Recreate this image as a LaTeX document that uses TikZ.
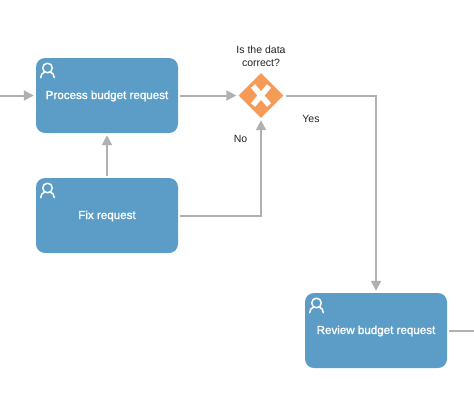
\documentclass[tikz,border=0pt]{standalone}
\usepackage{fontspec}
\setmainfont{Liberation Sans}
\newfontfamily\taskfont[FakeBold=1.5]{Liberation Sans}
\usetikzlibrary{shapes.geometric,arrows.meta}
\definecolor{taskblue}{HTML}{5B9DC6}
\definecolor{gateorange}{HTML}{F59A57}
\definecolor{flowgrey}{HTML}{B0B0B0}
\definecolor{labelink}{HTML}{222222}
\tikzset{
  x=1pt,y=-1pt,
  taskbox/.style={draw=none,fill=taskblue,rounded corners=9pt,minimum width=142pt,minimum height=75pt,inner sep=0pt},
  tasklabel/.style={text=white,font=\fontsize{11.6}{14}\taskfont,inner sep=0pt},
  gateway/.style={diamond,aspect=1,fill=gateorange,minimum size=45pt,inner sep=0pt},
  flow/.style={draw=flowgrey,line width=2pt,-{Triangle[length=10pt,width=10pt]},shorten >=2pt,shorten <=2pt},
  flowplain/.style={draw=flowgrey,line width=2pt,shorten <=2pt},
  annot/.style={text=labelink,font=\fontsize{10.5}{13}\selectfont,inner sep=0pt,align=center},
  personicon/.style={draw=white,line width=1.5pt,line cap=round,line join=round}
}
\newcommand{\personat}[2]{%
  \draw[personicon] (#1,#2-2.5) circle[radius=4.8pt];
  \draw[personicon] (#1-6.8,#2+7.2) .. controls (#1-6.8,#2+4) and (#1-5,#2+2.5) .. (#1-3.2,#2+1.8);
  \draw[personicon] (#1+6.8,#2+7.2) .. controls (#1+6.8,#2+4) and (#1+5,#2+2.5) .. (#1+3.2,#2+1.8);
}
\begin{document}
\begin{tikzpicture}
\useasboundingbox (0,0) rectangle (474,402);
\node[taskbox] (process) at (107,95.5) {};
\node[taskbox] (fix) at (107,215.5) {};
\node[taskbox] (review) at (376,330.5) {};
\node[tasklabel] at (107,96) {Process budget request};
\node[tasklabel] at (107,216) {Fix request};
\node[tasklabel] at (376,331) {Review budget request};
\personat{47.5}{70.5}
\personat{47.5}{190.5}
\personat{316.5}{305.5}
\node[gateway] (gate) at (261,95.5) {};
\draw[white,line width=5.5pt] (253,86) -- (269,105);
\draw[white,line width=5.5pt] (269,86) -- (253,105);
\coordinate (infree) at (0,95.5);
\coordinate (outfree) at (474,330.5);
\coordinate (bendyes) at (376,95.5);
\coordinate (bendno) at (261,215.5);
\draw[flow,shorten <=0pt] (infree) -- (process.west);
\draw[flow] (process.east) -- (gate.west);
\draw[flow] (fix.north) -- (process.south);
\draw[flow] (fix.east) -- (bendno) -- (gate.south);
\draw[flow] (gate.east) -- (bendyes) -- (review.north);
\draw[flowplain] (review.east) -- (outfree);
\node[annot] at (261,56) {Is the data\\correct?};
\node[annot] at (311,119) {Yes};
\node[annot] at (240.5,139) {No};
\end{tikzpicture}
\end{document}
